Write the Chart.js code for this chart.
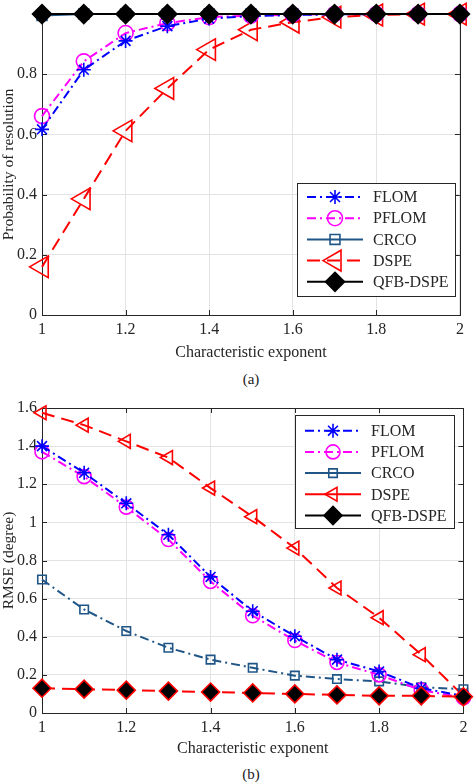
<!DOCTYPE html>
<html>
<head>
<meta charset="utf-8">
<script src="https://cdn.jsdelivr.net/npm/chart.js@4.4.0/dist/chart.umd.min.js"></script>
<style>
  body { margin: 0; background: #fff; width: 474px; height: 782px; position: relative; overflow: hidden; }
  canvas { position: absolute; left: 0; }
  .cap { position: absolute; width: 474px; left: 14px; text-align: center; font: 15px "Liberation Serif", serif; color: #222; }
</style>
</head>
<body>
<canvas id="probChart" width="474" height="362" style="top:0"></canvas>
<div class="cap" style="top:371px">(a)</div>
<canvas id="rmseChart" width="474" height="368" style="top:390px"></canvas>
<div class="cap" style="top:766px">(b)</div>
<script>
// characteristic exponent on the x axis
const exponents = [1, 1.1, 1.2, 1.3, 1.4, 1.5, 1.6, 1.7, 1.8, 1.9, 2];
const xTicks = [1, 1.2, 1.4, 1.6, 1.8, 2];

// (a) probability of resolution
const probTicks = [0, 0.2, 0.4, 0.6, 0.8];
const probFLOM  = [0.617, 0.815, 0.911, 0.96, 0.985, 0.993, 0.997, 0.999, 1, 1, 1];
const probPFLOM = [0.661, 0.843, 0.937, 0.97, 0.99, 0.995, 0.998, 1, 1, 1, 1];
const probCRCO  = [0.995, 1, 1, 1, 1, 1, 1, 1, 1, 1, 1];
const probDSPE  = [0.16, 0.386, 0.612, 0.753, 0.882, 0.948, 0.973, 0.99, 0.997, 1, 1];
const probQFB   = [1, 1, 1, 1, 1, 1, 1, 1, 1, 1, 1];

// (b) RMSE in degrees
const rmseTicks = [0, 0.2, 0.4, 0.6, 0.8, 1, 1.2, 1.4, 1.6];
const rmseFLOM  = [1.40, 1.26, 1.10, 0.935, 0.714, 0.534, 0.403, 0.28, 0.218, 0.13, 0.09];
const rmsePFLOM = [1.37, 1.24, 1.08, 0.91, 0.69, 0.51, 0.38, 0.265, 0.20, 0.12, 0.08];
const rmseCRCO  = [0.70, 0.543, 0.43, 0.342, 0.28, 0.237, 0.196, 0.178, 0.166, 0.135, 0.125];
const rmseDSPE  = [1.575, 1.51, 1.425, 1.34, 1.18, 1.03, 0.865, 0.656, 0.50, 0.306, 0.09];
const rmseQFB   = [0.13, 0.125, 0.12, 0.115, 0.11, 0.105, 0.10, 0.095, 0.09, 0.09, 0.085];

const FONT = '"Liberation Serif", "Times New Roman", serif';
const INK = '#262626';
const CRCO_COLOR = '#1f5687';
const DASHDOT = [9, 4, 2, 4];
const DASH = [13, 7];

function pts(values) {
  return values.map((v, i) => ({ x: exponents[i], y: v }));
}

function series(label, values, s) {
  return Object.assign({
    label: label,
    data: pts(values),
    borderWidth: 2,
    pointBorderWidth: 1.6,
    pointBackgroundColor: 'rgba(0,0,0,0)',
    pointHoverRadius: 0,
    clip: false,
    tension: 0
  }, s);
}

const fmt = v => String(+(+v).toFixed(2));

// box, inward ticks (matlab style)
const boxPlugin = {
  id: 'mlBox',
  beforeDatasetsDraw(chart) {
    const a = chart.chartArea, ctx = chart.ctx;
    const xs = chart.scales.x, ys = chart.scales.y;
    ctx.save();
    ctx.strokeStyle = INK;
    ctx.lineWidth = 1;
    ctx.beginPath();
    xs.ticks.forEach(t => {
      const px = Math.round(xs.getPixelForValue(t.value)) + 0.5;
      ctx.moveTo(px, a.bottom); ctx.lineTo(px, a.bottom - 5);
      ctx.moveTo(px, a.top); ctx.lineTo(px, a.top + 5);
    });
    ys.ticks.forEach(t => {
      const py = Math.round(ys.getPixelForValue(t.value)) + 0.5;
      ctx.moveTo(a.left, py); ctx.lineTo(a.left + 5, py);
      ctx.moveTo(a.right, py); ctx.lineTo(a.right - 5, py);
    });
    ctx.stroke();
    ctx.strokeRect(Math.round(a.left) + 0.5, Math.round(a.top) + 0.5,
      Math.round(a.right - a.left), Math.round(a.bottom - a.top));
    ctx.restore();
  }
};

// legend box with line + marker samples
const legendPlugin = {
  id: 'mlLegend',
  afterDraw(chart, args, opts) {
    const ctx = chart.ctx;
    ctx.save();
    ctx.fillStyle = '#fff';
    ctx.fillRect(opts.x, opts.y, opts.w, opts.h);
    ctx.strokeStyle = INK;
    ctx.lineWidth = 1;
    ctx.strokeRect(opts.x + 0.5, opts.y + 0.5, opts.w, opts.h);
    chart.data.datasets.forEach((ds, i) => {
      const y = opts.y + opts.first + i * opts.rowH;
      const lc = ds.legendColor || ds.borderColor;
      ctx.strokeStyle = lc;
      ctx.lineWidth = 2;
      ctx.setLineDash(ds.legendDash || ds.borderDash || []);
      ctx.beginPath();
      ctx.moveTo(opts.x + 10, y);
      ctx.lineTo(opts.x + 66, y);
      ctx.stroke();
      ctx.setLineDash([]);
      ctx.strokeStyle = ds.legendPointColor || ds.pointBorderColor || lc;
      ctx.fillStyle = ds.legendFill || ds.pointBackgroundColor;
      ctx.lineWidth = ds.pointBorderWidth;
      Chart.helpers.drawPoint(ctx, {
        pointStyle: ds.pointStyle,
        rotation: ds.pointRotation || 0,
        radius: ds.legendRadius || ds.pointRadius,
        borderWidth: ds.pointBorderWidth
      }, opts.x + 38, y);
      ctx.fillStyle = INK;
      ctx.font = '16px ' + FONT;
      ctx.textBaseline = 'middle';
      ctx.fillText(ds.label, opts.x + 76, y + 1);
    });
    ctx.restore();
  }
};

function makeChart(id, datasets, yTicks, yMax, yTitle, padTop, xHeight, legend) {
  return new Chart(document.getElementById(id), {
    type: 'line',
    data: { datasets: datasets },
    plugins: [boxPlugin, legendPlugin],
    options: {
      responsive: false,
      animation: false,
      events: [],
      layout: { padding: { left: 0, right: 10, top: padTop, bottom: 0 } },
      plugins: {
        legend: { display: false },
        tooltip: { enabled: false },
        mlLegend: legend
      },
      scales: {
        x: {
          type: 'linear',
          min: 1, max: 2,
          afterBuildTicks: s => { s.ticks = xTicks.map(v => ({ value: v })); },
          afterFit: s => { s.height = xHeight; s.paddingLeft = 0; s.paddingRight = 0; },
          grid: { color: '#e3e3e3', drawTicks: false },
          border: { display: false },
          ticks: { padding: 5, color: INK, font: { family: FONT, size: 16 }, maxRotation: 0, callback: fmt },
          title: { display: true, text: 'Characteristic exponent', color: INK,
                   font: { family: FONT, size: 16 }, padding: { top: 0, bottom: 0 } }
        },
        y: {
          min: 0, max: yMax,
          afterBuildTicks: s => { s.ticks = yTicks.map(v => ({ value: v })); },
          afterFit: s => { s.width = 42; s.paddingTop = 0; s.paddingBottom = 0; },
          grid: { color: '#e3e3e3', drawTicks: false },
          border: { display: false },
          ticks: { padding: 5, color: INK, font: { family: FONT, size: 16 }, callback: fmt },
          title: { display: true, text: yTitle, color: INK,
                   font: { family: FONT, size: 15.5 }, padding: { top: 0, bottom: 0 } }
        }
      }
    }
  });
}

makeChart('probChart', [
  series('FLOM', probFLOM, { borderColor: '#0000ff', borderDash: DASHDOT, pointStyle: 'star', pointRadius: 7, order: 3 }),
  series('PFLOM', probPFLOM, { borderColor: '#ff00ff', borderDash: DASHDOT, pointStyle: 'circle', pointRadius: 7.5, order: 4 }),
  series('CRCO', probCRCO, { borderColor: CRCO_COLOR, pointStyle: 'rect', pointRadius: 7, order: 2 }),
  series('DSPE', probDSPE, { borderColor: '#ff0000', borderDash: DASH, pointStyle: 'triangle', pointRotation: -90, pointRadius: 12.5, legendRadius: 12, order: 5 }),
  series('QFB-DSPE', probQFB, { borderColor: '#000000', pointStyle: 'rectRot', pointRadius: 9.5, pointBackgroundColor: '#000000', order: 0 })
], probTicks, 1, 'Probability of resolution', 12, 47,
  { x: 297, y: 183, w: 158, h: 113, first: 14, rowH: 21.2 });

makeChart('rmseChart', [
  series('FLOM', rmseFLOM, { borderColor: '#0000ff', borderDash: DASHDOT, pointStyle: 'star', pointRadius: 7, order: 2 }),
  series('PFLOM', rmsePFLOM, { borderColor: '#ff00ff', borderDash: DASHDOT, pointStyle: 'circle', pointRadius: 7, order: 3 }),
  series('CRCO', rmseCRCO, { borderColor: CRCO_COLOR, borderDash: DASHDOT, legendDash: [], pointStyle: 'rect', pointRadius: 6, order: 4 }),
  series('DSPE', rmseDSPE, { borderColor: '#ff0000', borderDash: DASH, legendDash: [], pointStyle: 'triangle', pointRotation: -90, pointRadius: 8, order: 5 }),
  series('QFB-DSPE', rmseQFB, { borderColor: '#ff0000', borderDash: DASH, legendColor: '#000000', legendDash: [],
    legendPointColor: '#000000', legendFill: '#000000',
    pointStyle: 'rectRot', pointRadius: 9, pointBorderColor: '#ff0000', pointBackgroundColor: '#000000', order: 1 })
], rmseTicks, 1.6, 'RMSE (degree)', 18, 45,
  { x: 295, y: 25, w: 159, h: 113, first: 15.7, rowH: 21.2 });
</script>
</body>
</html>
